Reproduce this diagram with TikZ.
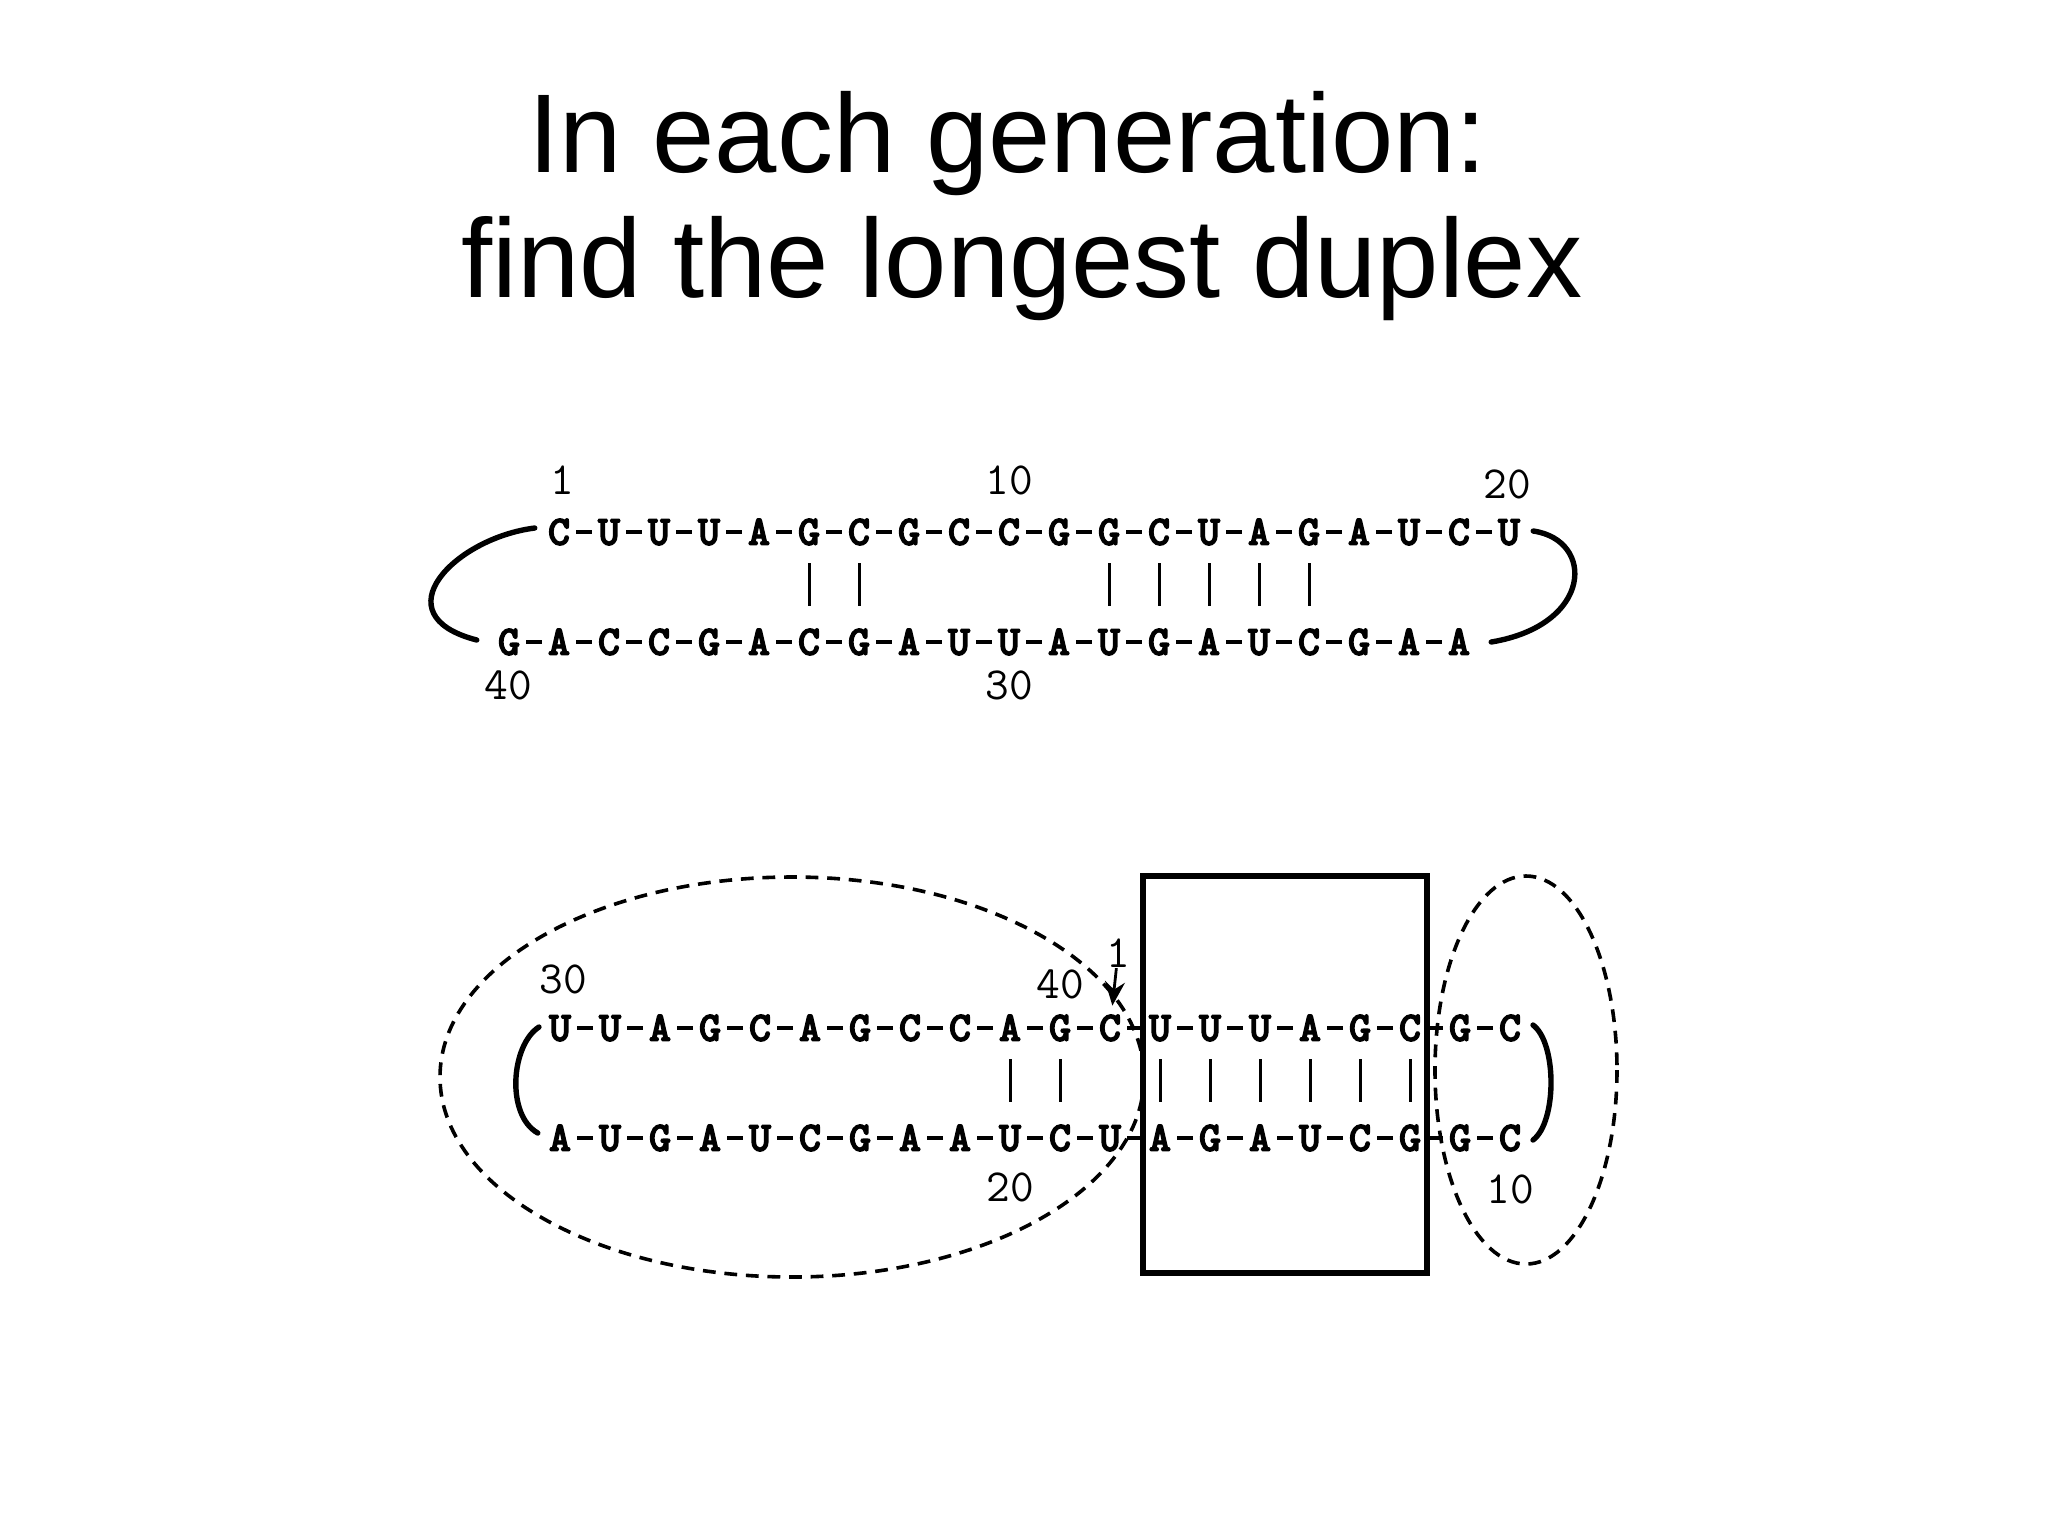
\documentclass[tikz,border=0pt]{standalone}
\usepackage{fontspec}
\newfontfamily\titlefont{Liberation Sans}
\newfontfamily\seqfont{lmmonolt10-bold.otf}[FakeBold=3]
\usetikzlibrary{arrows.meta}
\begin{document}
\begin{tikzpicture}[x=0.25pt,y=-0.25pt,
  nt/.style={font=\seqfont\fontsize{10.5}{12}\selectfont, inner sep=0pt, text height=6.4pt, text depth=0pt},
  num/.style={font=\ttfamily\fontsize{11.5}{13}\selectfont, inner sep=0pt},
  bond/.style={line width=1pt, shorten <=1.4pt, shorten >=1.4pt},
  pairline/.style={line width=0.75pt, shorten <=4.4pt, shorten >=5.7pt},
  loopline/.style={line width=1.35pt, line cap=round},
  dashline/.style={line width=0.9pt, dash pattern=on 3.2pt off 2.2pt},
  boxline/.style={line width=1.3pt},
  arr/.style={line width=0.7pt, -{Stealth[length=6pt,width=5pt]}, shorten >=2.2pt},
  titletext/.style={font=\titlefont\fontsize{28}{34}\selectfont, inner sep=0pt, anchor=base}]
\fill[white] (0,0) rectangle (2048,1535);
\useasboundingbox (0,0) rectangle (2048,1535);

% title
\node[titletext] (t1) at (1007.5,172) {In each generation:};
\node[titletext] (t2) at (1022,297) {find the longest duplex};

% structure 1
\foreach \l [count=\i] in {C,U,U,U,A,G,C,G,C,C,G,G,C,U,A,G,A,U,C,U}
  \node[nt] (a\i) at ({559+50*(\i-1)},532) {\l};
\foreach \l [count=\i] in {G,A,C,C,G,A,C,G,A,U,U,A,U,G,A,U,C,G,A,A}
  \node[nt] (b\i) at ({509+50*(\i-1)},642) {\l};

% structure 2
\foreach \l [count=\i] in {U,U,A,G,C,A,G,C,C,A,G,C,U,U,U,A,G,C,G,C}
  \node[nt] (c\i) at ({560+50*(\i-1)},1028) {\l};
\foreach \l [count=\i] in {A,U,G,A,U,C,G,A,A,U,C,U,A,G,A,U,C,G,G,C}
  \node[nt] (d\i) at ({560+50*(\i-1)},1138) {\l};

% backbone bonds
\foreach \r in {a,b,c,d}{
  \foreach \i in {1,...,19}{
    \pgfmathtruncatemacro{\j}{\i+1}
    \draw[bond] (\r\i) -- (\r\j);
  }
}

% base pairs
\foreach \i/\j in {6/7,7/8,12/13,13/14,14/15,15/16,16/17}
  \draw[pairline] (a\i) -- (b\j);
\foreach \i in {10,11,13,14,15,16,17,18}
  \draw[pairline] (c\i) -- (d\i);

% loops
\draw[loopline] ([shift={(-3.1pt,1pt)}]a1.west) .. controls +(-80,10) and +(-97,-25) .. ([shift={(-5.1pt,0.5pt)}]b1.west);
\draw[loopline] ([shift={(3.1pt,0.25pt)}]a20.east) .. controls +(62,9) and +(102,-17) .. ([shift={(5.1pt,0pt)}]b20.east);
\draw[loopline] ([shift={(-2.3pt,0.25pt)}]c1.west) .. controls +(-28,18) and +(-32,-18) .. ([shift={(-2.6pt,1.25pt)}]d1.west);
\draw[loopline] ([shift={(2.8pt,0.75pt)}]c20.east) .. controls +(24,18) and +(24,-18) .. ([shift={(2.8pt,-0.5pt)}]d20.east);

% numbers
\node[num] (n1a) at (562,480) {1};
\node[num] (n10a) at (1009,480) {10};
\node[num] (n20a) at (1507,484) {20};
\node[num] (n40a) at (508,685) {40};
\node[num] (n30a) at (1009,685) {30};

\node[num] (n30b) at (563,979) {30};
\node[num] (n40b) at (1060,984) {40};
\node[num] (n1b) at (1118,953) {1};
\node[num] (n20b) at (1010,1187) {20};
\node[num] (n10b) at (1510,1189) {10};

\draw[arr] (n1b) -- (c12);

% box and dashed ellipses
\draw[boxline] (1143,876) rectangle (1427,1273);
\draw[dashline] (792,1077) ellipse [x radius=352, y radius=200];
\draw[dashline] (1526,1070) ellipse [x radius=91, y radius=194];
\end{tikzpicture}
\end{document}
